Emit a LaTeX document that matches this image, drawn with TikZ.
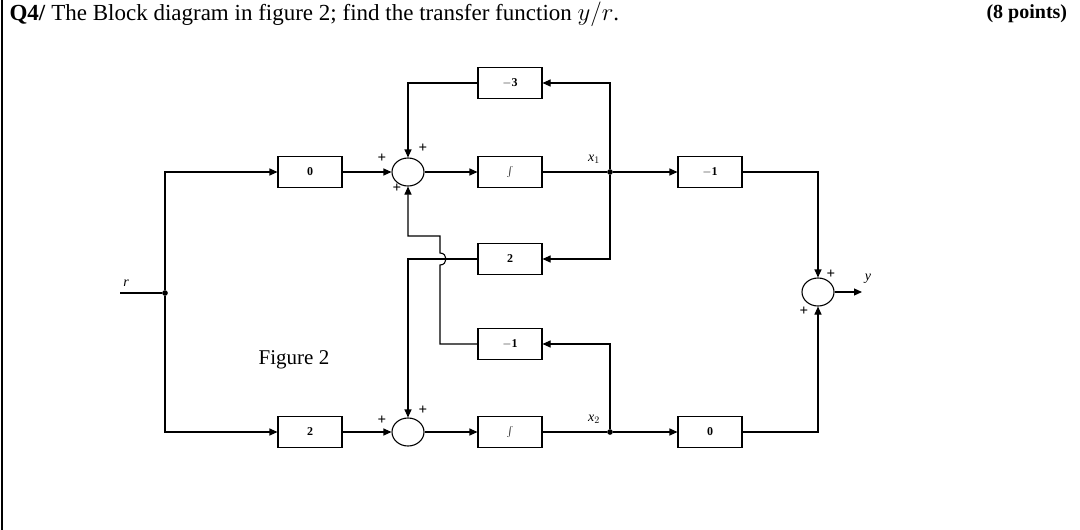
\documentclass[tikz,border=0pt]{standalone}
\usepackage{fontspec}
\setmainfont{Liberation Serif}
\usetikzlibrary{arrows.meta,shapes.geometric}
\begin{document}
\begin{tikzpicture}[x=1pt,y=-1pt,
 blk/.style={draw,line width=1.1pt,minimum width=64pt,minimum height=31pt,inner sep=0pt,font=\bfseries\fontsize{12}{14}\selectfont},
 sm/.style={draw,line width=1.1pt,ellipse,minimum width=32pt,minimum height=28pt,inner sep=0pt},
 ln/.style={line width=1.1pt},
 ar/.style={line width=1.1pt,-{Triangle[length=8pt,width=7pt]}},
 dot/.style={circle,fill,inner sep=2pt},
 pl/.style={font=\bfseries\fontsize{15}{16}\selectfont}]
\useasboundingbox (0,0) rectangle (1080,530);
\fill[white] (0,0) rectangle (1080,530);
\draw[line width=1.2pt] (2,0) -- (2,530);
\node[anchor=west,font=\fontsize{23}{25}\selectfont] (title) at (6,14) {\textbf{Q4/} The Block diagram in figure 2; find the transfer function $y/r$.};
\node[anchor=west,font=\fontsize{20}{22}\selectfont\bfseries] (pts) at (983,14) {(8 points)};
% blocks
\node[blk] (b0) at (310,172) {0};
\node[blk] (b2) at (310,432) {2};
\node[blk] (bm3) at (510,83) {$-$3};
\node[blk] (i1) at (510,172) {\fontsize{15}{16}\selectfont$\int$};
\node[blk] (c2) at (510,259) {2};
\node[blk] (bm1) at (510,344) {$-$1};
\node[blk] (i2) at (510,432) {\fontsize{15}{16}\selectfont$\int$};
\node[blk] (d1) at (710,172) {$-$1};
\node[blk] (d0) at (710,432) {0};
\node[sm] (s1) at (408,172) {};
\node[sm] (s2) at (408,432) {};
\node[sm] (s3) at (818,292) {};
\node[font=\fontsize{21}{23}\selectfont] (fig) at (294,360) {Figure 2};
% input
\coordinate (rin) at (120,293);
\node[dot] (jr) at (165,293) {};
\node[font=\fontsize{14}{15}\selectfont\itshape] (rl) at (126,283) {r};
\draw[ln] (rin) -- (jr);
\draw[ar] (jr) |- (b0.west);
\draw[ar] (jr) |- (b2.west);
\draw[ar] (b0) -- (s1);
\draw[ar] (b2) -- (s2);
\draw[ar] (s1) -- (i1);
\draw[ar] (s2) -- (i2);
\node[dot] (x1) at (610,172) {};
\node[dot] (x2) at (610,432) {};
\node[font=\fontsize{14}{15}\selectfont\itshape] (x1l) at (594,159) {x$_1$};
\node[font=\fontsize{14}{15}\selectfont\itshape] (x2l) at (594,419) {x$_2$};
\draw[ln] (i1) -- (x1);
\draw[ln] (i2) -- (x2);
\draw[ar] (x1) -- (d1);
\draw[ar] (x2) -- (d0);
\draw[ar] (x1) |- (bm3.east);
\draw[ar] (x1) |- (c2.east);
\draw[ar] (x2) |- (bm1.east);
\draw[ar] (bm3.west) -| (s1.north);
\draw[ar] (c2.west) -| (s2.north);
\draw[ar] (bm1.west) -- (440,344) -- (440,265) .. controls (448,265) and (448,253) .. (440,253) -- (440,236) -- (408,236) -- (s1.south);
\draw[ar] (d1.east) -| (s3.north);
\draw[ar] (d0.east) -| (s3.south);
\coordinate (yout) at (862,292);
\draw[ar] (s3) -- (yout);
\node[font=\fontsize{14}{15}\selectfont\itshape] (yl) at (868,279) {y};
% signs
\node[pl] at (382,158) {+};
\node[pl] at (423,148) {+};
\node[pl] at (397,188) {+};
\node[pl] at (382,420) {+};
\node[pl] at (423,410) {+};
\node[pl] at (831,274) {+};
\node[pl] at (804,311) {+};
\end{tikzpicture}
\end{document}
